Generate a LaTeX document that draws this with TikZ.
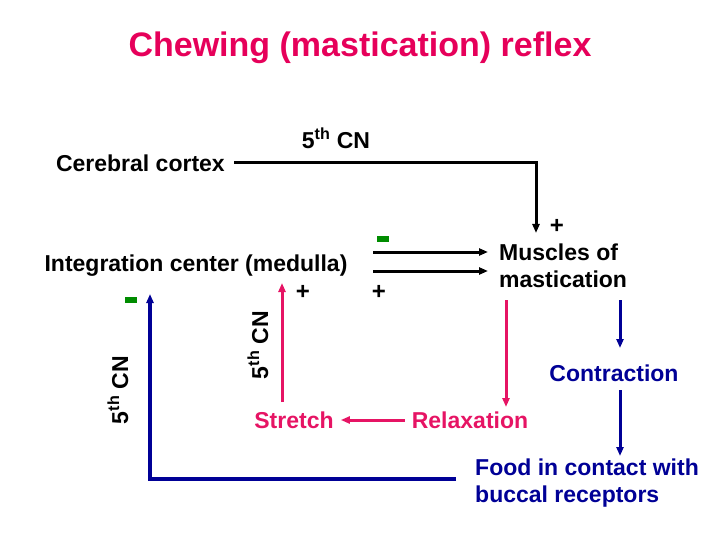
\documentclass[tikz,border=0pt]{standalone}
\usepackage{fontspec}
\setmainfont{Liberation Sans}
\usetikzlibrary{arrows.meta}
\definecolor{ttl}{RGB}{230,0,90}
\definecolor{pk}{RGB}{230,20,100}
\definecolor{bl}{RGB}{0,0,150}
\definecolor{gr}{RGB}{0,140,0}
\tikzset{
  lbl/.style = {font=\fontsize{23}{27}\selectfont, inner sep=1pt},
  sg/.style = {font=\bfseries\fontsize{24}{24}\selectfont, inner sep=0pt},
  ar/.style = {-{Triangle[length=9pt,width=7pt]}, line width=3pt},
  mn/.style = {fill=gr, minimum width=12pt, minimum height=6pt, inner sep=0pt}
}
\begin{document}
\begin{tikzpicture}[x=1pt,y=-1pt]
\useasboundingbox (0,0) rectangle (720,540);
\node[font=\bfseries\fontsize{34}{36}\selectfont, text=ttl] (title) at (360,48) {Chewing (mastication) reflex};
\node[lbl, anchor=east] (cortex) at (226,163) {\bfseries Cerebral cortex};
\node[lbl] (cn1) at (336,138) {\bfseries 5\textsuperscript{th} CN};
\node[lbl] (integ) at (196,266) {\bfseries Integration center (medulla)};
\node[lbl, align=left, anchor=west] (musc) at (498,266) {\bfseries Muscles of\\\bfseries mastication};
\node[lbl, text=bl] (contr) at (614,373) {\bfseries Contraction};
\node[lbl, text=pk] (stretch) at (294,420) {\bfseries Stretch};
\node[lbl, text=pk] (relax) at (470,420) {\bfseries Relaxation};
\node[lbl, text=bl, align=left, anchor=west] (food) at (474,483) {\bfseries Food in contact with\\\bfseries buccal receptors};
\node[lbl, rotate=90] (cn2) at (258,345) {\bfseries 5\textsuperscript{th} CN};
\node[lbl, rotate=90] (cn3) at (118,390) {\bfseries 5\textsuperscript{th} CN};
\node[sg] (p1) at (557,226) {+};
\node[sg] (p2) at (303,292) {+};
\node[sg] (p3) at (379,292) {+};
\node[mn] (m1) at (383,239) {};
\node[mn] (m2) at (131,300) {};
\coordinate (c1) at (536,163);
\coordinate (c2) at (536,233);
\coordinate (a1) at (373,252);
\coordinate (a2) at (488,252);
\coordinate (a3) at (373,271);
\coordinate (a4) at (488,271);
\coordinate (s1) at (282,402);
\coordinate (s2) at (282,283);
\coordinate (r1) at (506,300);
\coordinate (r2) at (506,407);
\coordinate (b1) at (620,300);
\coordinate (b2) at (620,348);
\coordinate (b3) at (620,390);
\coordinate (b4) at (620,456);
\coordinate (f1) at (456,479);
\coordinate (f2) at (150,479);
\coordinate (f3) at (150,294);
\draw[ar, shorten <=8pt] (cortex.east) -- (c1) -- (c2);
\draw[ar] (a1) -- (a2);
\draw[ar] (a3) -- (a4);
\draw[ar, pk] (s1) -- (s2);
\draw[ar, pk] (r1) -- (r2);
\draw[ar, pk, shorten <=6pt, shorten >=6pt] (relax.west) -- (stretch.east);
\draw[ar, bl] (b1) -- (b2);
\draw[ar, bl] (b3) -- (b4);
\draw[ar, bl, line width=4pt] (f1) -- (f2) -- (f3);
\end{tikzpicture}
\end{document}
